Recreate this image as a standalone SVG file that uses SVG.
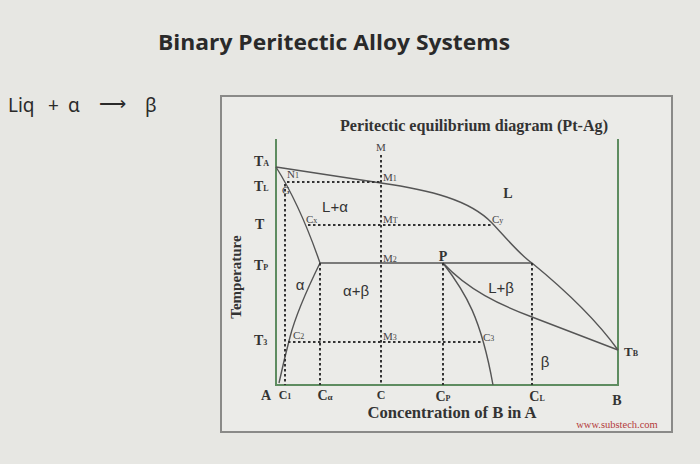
<svg xmlns="http://www.w3.org/2000/svg" width="700" height="464" viewBox="0 0 700 464">
<style>
.serif{font-family:"Liberation Serif","DejaVu Serif",serif;font-weight:bold;fill:#333}
.sans{font-family:"Liberation Sans","DejaVu Sans",sans-serif;fill:#333}
.axis{stroke:#5e8c60;stroke-width:2;fill:none}
.curve{stroke:#555;stroke-width:1.4;fill:none}
.dot{stroke:#333;stroke-width:2;stroke-dasharray:2.5 2.5;fill:none}
.pt{font-family:"Liberation Serif","DejaVu Serif",serif;fill:#444;font-size:11px}
.lq{font-family:"Noto Sans","Liberation Sans",sans-serif;font-size:19px;fill:#2a2a2a}
</style>
<rect width="700" height="464" fill="#e7e7e3"/>
<text x="334" y="50" text-anchor="middle" font-family="'Open Sans','Noto Sans',sans-serif" font-weight="bold" font-size="22" fill="#2a2a2a" textLength="352" lengthAdjust="spacingAndGlyphs">Binary Peritectic Alloy Systems</text>
<g id="equation">
<text class="lq" x="8" y="112">Liq</text>
<text class="lq" x="48" y="112">+</text>
<text class="lq" x="68" y="112">α</text>
<text class="lq" x="99" y="110" font-size="15">⟶</text>
<text class="lq" x="145" y="112">β</text>
</g>
<g id="frame">
<rect x="221" y="96" width="451" height="336" fill="#ebebe8" stroke="#8a8a88" stroke-width="2"/>
</g>
<text class="serif" x="474" y="131" text-anchor="middle" font-size="16" textLength="268" lengthAdjust="spacingAndGlyphs">Peritectic equilibrium diagram (Pt-Ag)</text>
<g id="axes">
<line class="axis" x1="276" y1="139" x2="276" y2="386"/>
<line class="axis" x1="618" y1="139" x2="618" y2="386"/>
<line class="axis" x1="275" y1="385" x2="619" y2="385"/>
</g>
<g id="connectors">
<path class="curve" d="M276 167 L381 183 C430 190 470 200 492 223 C508 240 520 255 532 263 C565 290 595 318 618 350"/>
<path class="curve" d="M276 167 Q300 205 320 263"/>
<path class="curve" d="M320 263 Q297 310 290 337 Q284 360 279 383"/>
<line class="curve" x1="320" y1="263" x2="532" y2="263"/>
<path class="curve" d="M443 263 C468 290 500 305 532 317 L618 350"/>
<path class="curve" d="M443 263 C466 293 481 318 493 385"/>
<line class="dot" x1="285" y1="184" x2="285" y2="385"/>
<line class="dot" x1="320" y1="263" x2="320" y2="385"/>
<line class="dot" x1="381" y1="155" x2="381" y2="385"/>
<line class="dot" x1="443" y1="263" x2="443" y2="385"/>
<line class="dot" x1="532" y1="263" x2="532" y2="385"/>
<line class="dot" x1="287" y1="182" x2="381" y2="182"/>
<line class="dot" x1="308" y1="225" x2="492" y2="225"/>
<line class="dot" x1="288" y1="342" x2="483" y2="342"/>
</g>
<g id="y-labels">
<text class="serif" x="254" y="166" font-size="14">T<tspan font-size="8">A</tspan></text>
<text class="serif" x="254" y="191" font-size="14">T<tspan font-size="8">L</tspan></text>
<text class="serif" x="255" y="229" font-size="14">T</text>
<text class="serif" x="254" y="270" font-size="14">T<tspan font-size="8">P</tspan></text>
<text class="serif" x="254" y="345" font-size="14">T<tspan font-size="8">3</tspan></text>
<text class="serif" x="241" y="277" font-size="15" text-anchor="middle" transform="rotate(-90 241 277)">Temperature</text>
</g>
<g id="x-labels">
<text class="serif" x="266" y="400" font-size="14" text-anchor="middle">A</text>
<text class="serif" x="285" y="399" font-size="12" text-anchor="middle" font-weight="normal">C<tspan font-size="8">1</tspan></text>
<text class="serif" x="325" y="400" font-size="14" text-anchor="middle">C<tspan font-size="9">α</tspan></text>
<text class="serif" x="381" y="399" font-size="12" text-anchor="middle">C</text>
<text class="serif" x="443" y="401" font-size="14" text-anchor="middle">C<tspan font-size="8">P</tspan></text>
<text class="serif" x="537" y="401" font-size="14" text-anchor="middle">C<tspan font-size="8">L</tspan></text>
<text class="serif" x="617" y="405" font-size="14" text-anchor="middle">B</text>
<text class="serif" x="452" y="418" font-size="16" text-anchor="middle" textLength="169" lengthAdjust="spacingAndGlyphs">Concentration of B in A</text>
<text x="617" y="428" font-family="'Liberation Serif',serif" font-size="10.5" fill="#b33a3a" text-anchor="middle">www.substech.com</text>
</g>
<g id="regions">
<text class="serif" x="508" y="198" font-size="14" text-anchor="middle">L</text>
<text class="sans" x="335" y="212" font-size="15" text-anchor="middle">L+α</text>
<text class="sans" x="300" y="290" font-size="15" text-anchor="middle">α</text>
<text class="sans" x="356" y="296" font-size="15" text-anchor="middle">α+β</text>
<text class="sans" x="501" y="293" font-size="15" text-anchor="middle">L+β</text>
<text class="sans" x="545" y="367" font-size="15" text-anchor="middle">β</text>
<text class="serif" x="624" y="356" font-size="13">T<tspan font-size="8">B</tspan></text>
</g>
<g id="points">
<text class="pt" x="381" y="151" text-anchor="middle" font-size="11">M</text>
<text class="pt" x="383" y="181">M<tspan font-size="8">1</tspan></text>
<text class="pt" x="383" y="223">M<tspan font-size="8">T</tspan></text>
<text class="pt" x="383" y="262">M<tspan font-size="8">2</tspan></text>
<text class="pt" x="383" y="340">M<tspan font-size="8">3</tspan></text>
<text class="serif" x="443" y="261" font-size="14" text-anchor="middle">P</text>
<text class="pt" x="287" y="178">N<tspan font-size="8">1</tspan></text>
<text class="pt" x="282" y="194">G</text>
<text class="pt" x="306" y="223">C<tspan font-size="8">x</tspan></text>
<text class="pt" x="492" y="223">C<tspan font-size="8">y</tspan></text>
<text class="pt" x="293" y="339">C<tspan font-size="8">2</tspan></text>
<text class="pt" x="483" y="341">C<tspan font-size="8">3</tspan></text>
</g>
</svg>
